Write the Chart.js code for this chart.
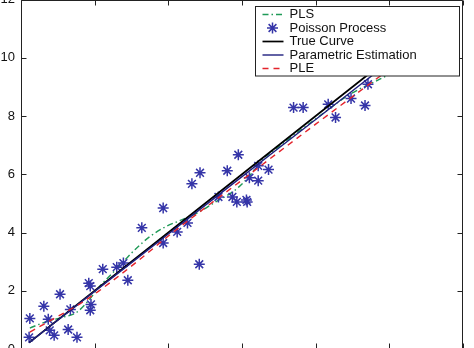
<!DOCTYPE html>
<html>
<head>
<meta charset="utf-8">
<script src="https://cdn.jsdelivr.net/npm/chart.js@4.4.1/dist/chart.umd.min.js"></script>
<style>
  html, body { margin: 0; padding: 0; background: #fff; overflow: hidden; width: 474px; height: 348px; }
  #wrap { position: absolute; left: 0; top: -16px; width: 474px; height: 380px; }
  canvas { display: block; }
</style>
</head>
<body>
<div id="wrap"><canvas id="c" width="474" height="380"></canvas></div>
<script>
// Axis ticks
const xTickValues = [0, 1, 2, 3, 4, 5, 6];
const yTickValues = [0, 2, 4, 6, 8, 10, 12];
const yTickLabels = ['0', '2', '4', '6', '8', '10', '12'];

// Legend order
const seriesNames = ['PLS', 'Poisson Process', 'True Curve', 'Parametric Estimation', 'PLE'];

// Observed Poisson process points
const poissonT = [0.11, 0.12, 0.31, 0.37, 0.39, 0.45, 0.53, 0.64, 0.67, 0.76,
                  0.92, 0.94, 0.95, 0.94, 1.11, 1.30, 1.39, 1.45, 1.64, 1.93,
                  1.93, 2.12, 2.26, 2.32, 2.42, 2.43, 2.68, 2.80, 2.87, 2.95,
                  2.93, 3.06, 3.07, 3.10, 3.22, 3.22, 3.36, 3.70, 3.83, 4.17,
                  4.27, 4.48, 4.67, 4.71];
const poissonCount = [0.40, 1.05, 1.47, 1.02, 0.64, 0.47, 1.88, 0.67, 1.36, 0.40,
                      2.26, 2.16, 1.53, 1.33, 2.74, 2.81, 2.95, 2.36, 4.16, 4.84,
                      3.64, 4.02, 4.33, 5.67, 2.91, 6.05, 5.22, 6.12, 5.22, 6.67,
                      5.05, 5.12, 5.05, 5.88, 6.29, 5.78, 6.16, 8.29, 8.29, 8.40,
                      7.95, 8.60, 8.36, 9.09];

// PLS estimate
const plsT = [0.12, 0.30, 0.55, 0.75, 0.92, 1.05, 1.22, 1.39, 1.55, 1.75, 1.98, 2.15,
              2.43, 2.66, 2.80, 2.95, 3.12, 3.24, 3.50, 4.00, 4.47, 4.97, 5.60];
const plsY = [0.72, 0.90, 1.08, 1.25, 1.67, 2.10, 2.55, 3.00, 3.42, 3.86, 4.22, 4.40,
              4.72, 5.08, 5.27, 5.55, 6.00, 6.42, 6.95, 7.90, 8.75, 9.40, 10.50];

// True cumulative intensity
const trueT = [0.11, 1, 2, 3, 4, 5, 5.6];
const trueY = [0.22, 2, 4, 6, 8, 10, 11.2];

// Parametric estimate
const paramT = [0.11, 1, 2, 3, 4, 5, 5.6];
const paramY = [0.22, 1.98, 3.95, 5.92, 7.88, 9.85, 11.03];

// PLE estimate
const pleT = [0.12, 0.50, 0.80, 1.05, 1.60, 2.00, 3.00, 4.00, 5.00, 5.60];
const pleY = [0.58, 1.12, 1.55, 1.98, 3.05, 3.88, 5.80, 7.72, 9.60, 10.70];

const toPoints = (xs, ys) => xs.map((x, i) => ({ x: x, y: ys[i] }));

const FONT = "'Liberation Sans', Arial, Helvetica, sans-serif";
const STAR_COLOR = '#3535a8';

const datasets = [
  { label: seriesNames[0], data: toPoints(plsT, plsY), borderColor: '#1f9a57', borderWidth: 1.4,
    borderDash: [6, 3, 1.5, 3], pointRadius: 0, cubicInterpolationMode: 'monotone', order: 4 },
  { label: seriesNames[1], data: toPoints(poissonT, poissonCount), showLine: false,
    pointStyle: 'star', pointRadius: 5.5, pointBorderColor: STAR_COLOR, pointBackgroundColor: STAR_COLOR,
    pointBorderWidth: 1.5, borderColor: STAR_COLOR, order: 3 },
  { label: seriesNames[2], data: toPoints(trueT, trueY), borderColor: '#000000', borderWidth: 1.7,
    pointRadius: 0, order: 2 },
  { label: seriesNames[3], data: toPoints(paramT, paramY), borderColor: '#1f1f7e', borderWidth: 1.4,
    pointRadius: 0, cubicInterpolationMode: 'monotone', order: 1 },
  { label: seriesNames[4], data: toPoints(pleT, pleY), borderColor: '#e3232b', borderWidth: 1.4,
    borderDash: [6, 5], pointRadius: 0, cubicInterpolationMode: 'monotone', order: 0 }
];

// Box with inward tick marks on all four sides
const framePlugin = {
  id: 'frame',
  afterDatasetsDraw(chart) {
    const { ctx, chartArea: a, scales } = chart;
    const L = Math.round(a.left) + 0.5, R = Math.round(a.right) - 0.5;
    const T = Math.round(a.top) + 0.5, B = Math.round(a.bottom) - 0.5;
    ctx.save();
    ctx.strokeStyle = '#222';
    ctx.lineWidth = 1;
    ctx.setLineDash([]);
    ctx.beginPath();
    ctx.moveTo(L, T); ctx.lineTo(R, T); ctx.lineTo(R, B); ctx.lineTo(L, B); ctx.closePath();
    const len = 5;
    yTickValues.forEach(v => {
      const py = Math.round(scales.y.getPixelForValue(v)) + 0.5;
      ctx.moveTo(L, py); ctx.lineTo(L + len, py);
      ctx.moveTo(R, py); ctx.lineTo(R - len, py);
    });
    xTickValues.forEach(v => {
      const px = Math.round(scales.x.getPixelForValue(v)) + 0.5;
      ctx.moveTo(px, B); ctx.lineTo(px, B - len);
      ctx.moveTo(px, T); ctx.lineTo(px, T + len);
    });
    ctx.stroke();
    ctx.restore();
  }
};

// Boxed legend in the upper right corner of the axes
const boxLegendPlugin = {
  id: 'boxLegend',
  afterDraw(chart) {
    const { ctx, chartArea: a } = chart;
    const w = 204, h = 69.5;
    const x0 = Math.round(a.right) - 4 - w + 0.5;
    const y0 = Math.round(a.top) + 6 + 0.5;
    ctx.save();
    ctx.fillStyle = '#fff';
    ctx.fillRect(x0, y0, w, h);
    ctx.strokeStyle = '#222';
    ctx.lineWidth = 1;
    ctx.setLineDash([]);
    ctx.strokeRect(x0, y0, w, h);
    ctx.font = '13px ' + FONT;
    ctx.textBaseline = 'middle';
    ctx.textAlign = 'left';
    const rowH = 13.5;
    chart.data.datasets.forEach((ds, i) => {
      const cy = y0 + 8 + i * rowH;
      ctx.save();
      if (ds.showLine === false) {
        ctx.strokeStyle = ds.pointBorderColor;
        ctx.fillStyle = ds.pointBackgroundColor;
        ctx.lineWidth = ds.pointBorderWidth;
        Chart.helpers.drawPoint(ctx, { pointStyle: 'star', radius: ds.pointRadius, borderWidth: ds.pointBorderWidth }, x0 + 17, cy);
      } else {
        ctx.strokeStyle = ds.borderColor;
        ctx.lineWidth = ds.borderWidth;
        ctx.setLineDash(ds.borderDash || []);
        ctx.beginPath();
        ctx.moveTo(x0 + 7, cy);
        ctx.lineTo(x0 + 28, cy);
        ctx.stroke();
      }
      ctx.restore();
      ctx.fillStyle = '#111';
      ctx.fillText(ds.label, x0 + 34, cy);
    });
    ctx.restore();
  }
};

new Chart(document.getElementById('c'), {
  type: 'line',
  data: { datasets: datasets },
  options: {
    responsive: false,
    animation: false,
    devicePixelRatio: 1,
    layout: { padding: { left: 0, right: 11, top: 15.5, bottom: 15 } },
    plugins: { legend: { display: false }, tooltip: { enabled: false } },
    scales: {
      x: { type: 'linear', min: 0, max: 6, display: false },
      y: {
        type: 'linear', position: 'left', min: 0, max: 12,
        grid: { display: false, drawTicks: false },
        border: { display: false },
        afterBuildTicks: s => { s.ticks = yTickValues.map(v => ({ value: v })); },
        afterFit: s => { s.width = 21; },
        ticks: {
          padding: 6, color: '#111',
          font: { family: FONT, size: 13 },
          callback: v => yTickLabels[yTickValues.indexOf(v)]
        }
      }
    }
  },
  plugins: [framePlugin, boxLegendPlugin]
});
</script>
</body>
</html>
